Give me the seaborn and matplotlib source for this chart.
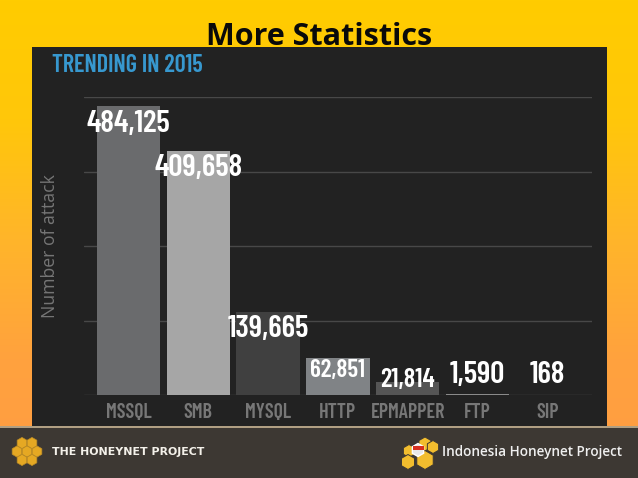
import numpy as np
import pandas as pd
import matplotlib
matplotlib.use("Agg")
import matplotlib.pyplot as plt
from matplotlib.patches import Rectangle, RegularPolygon
from matplotlib.colors import LinearSegmentedColormap
import seaborn as sns

services = ["MSSQL", "SMB", "MYSQL", "HTTP", "EPMAPPER", "FTP", "SIP"]
attacks = [484125, 409658, 139665, 62851, 21814, 1590, 168]
bar_colors = ["#6a6b6d", "#a6a6a6", "#404040", "#808386", "#555555", "#8a8a8a", "#555555"]
value_sizes = [22.5, 22.5, 22.5, 18, 19, 22.5, 22.5]
value_offsets = [-12.5, -12.5, -12.5, -9, 1.5, 13.5, 14]
y_ticks = [0, 125000, 250000, 375000, 500000]

W, H = 638, 478
COND = ["Barlow Condensed", "DejaVu Sans"]
sns.set_theme(style="dark")
plt.rcParams["font.family"] = COND
fig = plt.figure(figsize=(W / 100, H / 100), dpi=100)

# Slide background, in pixel coordinates
bg = fig.add_axes([0, 0, 1, 1], zorder=0)
bg.set_xlim(0, W)
bg.set_ylim(H, 0)
bg.axis("off")
cmap = LinearSegmentedColormap.from_list("slide", ["#ffcc00", "#ffc70a", "#ffb52a", "#ffa23e", "#ff9c44"])
bg.imshow(np.linspace(0, 1, 256)[:, None], cmap=cmap, extent=[0, W, H, 0], aspect="auto", zorder=0)
bg.text(319, 37, "More Statistics", family="Open Sans", weight="bold", fontsize=22,
        color="#0a0a0a", ha="center", va="center", zorder=1)
bg.add_patch(Rectangle((32, 47), 575, 380, color="#222222", lw=0, zorder=2))
bg.add_patch(Rectangle((0, 426), W, 2, color="#b09f83", lw=0, zorder=3))
bg.add_patch(Rectangle((0, 428), W, 50, color="#3d3833", lw=0, zorder=3))
bg.text(52, 65, "TRENDING IN 2015", weight="semibold", fontsize=17.5, color="#3798cf",
        ha="left", va="center", zorder=4)
bg.text(50, 246, "Number of attack", family="Open Sans", fontsize=12.7, color="#757575",
        rotation=90, ha="center", va="center", zorder=4)

# Honeynet honeycomb logo
for cx, cy in [(22, 443), (32, 443), (17, 451.5), (27, 451.5), (37, 451.5), (22, 460), (32, 460)]:
    bg.add_patch(RegularPolygon((cx, cy), 6, radius=5.6,
                                facecolor="#e5a823", edgecolor="#b98a25", lw=0.5, zorder=4))
bg.text(52, 452, "THE HONEYNET PROJECT", family="DejaVu Sans", weight="bold", fontsize=7.9,
        color="#f4f1ea", ha="left", va="center", zorder=4)

# Indonesia Honeynet logo
for cx, cy, r in [(425, 444, 7), (409, 451, 6.5), (433, 447, 6.5), (408, 462, 7.5), (425, 460, 9.5)]:
    bg.add_patch(RegularPolygon((cx, cy), 6, radius=r, facecolor="#f2bd2e",
                                edgecolor="#3d3833", lw=0.7, zorder=4))
bg.add_patch(RegularPolygon((418, 450), 6, radius=6.5, facecolor="#e8e8e8", zorder=5))
bg.add_patch(Rectangle((413, 446), 11, 4, color="#d8301f", lw=0, zorder=6))
bg.text(442, 452, "Indonesia Honeynet Project", family="Open Sans", weight="semibold", fontsize=9.8,
        color="#efefef", ha="left", va="center", zorder=4)

# Chart
ax = fig.add_axes([84 / W, 1 - 395 / H, (592 - 84) / W, (395 - 97) / H], zorder=1)
ax.patch.set_alpha(0)
df = pd.DataFrame({"service": services, "attacks": attacks})
sns.barplot(data=df, x="service", y="attacks", hue="service", palette=bar_colors,
            width=0.91, saturation=1, legend=False, linewidth=0, ax=ax, zorder=3)
ax.set_xlim(-0.6375, 6.64)
ax.set_ylim(0, 500000)
ax.set_yticks(y_ticks)
ax.set_yticklabels([])
ax.grid(axis="y", color="#484848", lw=1, zorder=1)
ax.grid(axis="x", visible=False)
ax.set_xlabel("")
ax.set_ylabel("")
for s in ax.spines.values():
    s.set_visible(False)
ax.tick_params(axis="both", length=0)
ax.tick_params(axis="x", pad=6, labelsize=14.5, labelcolor="#777777")
for lab in ax.get_xticklabels():
    lab.set_fontweight("semibold")

for i, (v, fs, off) in enumerate(zip(attacks, value_sizes, value_offsets)):
    ax.annotate(f"{v:,}", (i, v), xytext=(0, off), textcoords="offset points",
                ha="center", va="center", fontsize=fs, weight="semibold", color="white",
                annotation_clip=False, zorder=5)

fig.savefig("out.png", dpi=100)
